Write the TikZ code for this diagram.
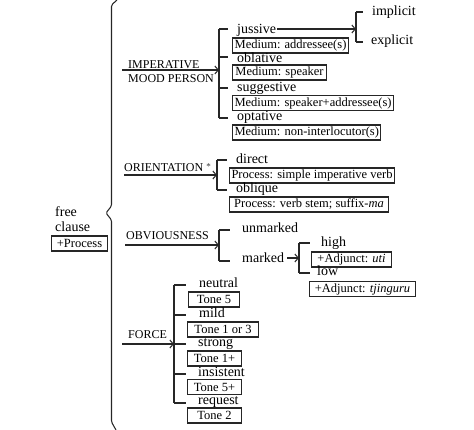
\documentclass[tikz,border=0pt]{standalone}
\usepackage{fontspec}
\setmainfont{Liberation Serif}
\usetikzlibrary{arrows.meta}
\begin{document}
\begin{tikzpicture}[x=1pt,y=-1pt,
  ln/.style={draw=black!85,line width=1.05pt},
  arr/.style={ln,-{Straight Barb[length=3.5pt,width=8pt]}},
  lab/.style={inner sep=0pt,anchor=base west,font=\fontsize{14}{16}\selectfont,text=black},
  caplab/.style={inner sep=0pt,anchor=base west,font=\fontsize{12}{14}\selectfont,text=black},
  bx/.style={draw=black!85,line width=1.05pt,inner xsep=2pt,inner ysep=0pt,anchor=west,
    font=\fontsize{12.5}{14}\selectfont,text=black,minimum height=15pt},
]
\useasboundingbox (0,0) rectangle (474,430);
% big brace
\draw[ln,rounded corners=1.5pt] (117,0) -- (111.5,5) -- (111.5,206) -- (106,213) -- (111.5,220) -- (111.5,422) -- (116,430);
% free clause
\node[lab] (free) at (55,217) {free};
\node[lab] (clause) at (55,232) {clause};
\node[bx,minimum width=56pt] (proc) at (51,243.5) {+Process};

% IMPERATIVE MOOD PERSON
\node[caplab] (imp) at (128,68.5) {IMPERATIVE};
\node[caplab] (mood) at (128,83) {MOOD PERSON};
\coordinate (impL) at (122,70);
\coordinate (b1t) at (219,29);
\coordinate (b1b) at (219,118);
\draw[ln] (b1t) -- (b1b);
\draw[arr] (impL) -- (b1t |- impL);
\foreach \yy in {29,57,88,118} \draw[ln] (219,\yy) -- (228,\yy);
\node[lab] (jus) at (237,33.5) {jussive};
\node[bx,minimum width=116pt] (m1) at (232,45.5) {Medium: addressee(s)};
\node[lab] (obl) at (237,63) {oblative};
\node[bx,minimum width=94pt] (m2) at (232,72.5) {Medium: speaker};
\node[lab] (sug) at (237,92) {suggestive};
\node[bx,minimum width=161pt] (m3) at (232,103) {Medium: speaker+addressee(s)};
\node[lab] (opt) at (237,121) {optative};
\node[bx,minimum width=146pt] (m4) at (232,132.5) {Medium: non-interlocutor(s)};
% implicit / explicit
\coordinate (b2t) at (356,12);
\coordinate (b2b) at (356,42);
\draw[ln] (b2t) -- (b2b);
\draw[ln] (b2t) -- ++(7,0);
\draw[ln] (b2b) -- ++(7,0);
\coordinate (jusE) at (277,29);
\draw[arr] (jusE) -- (b2t |- jusE);
\node[lab] (impl) at (372,16) {implicit};
\node[lab] (expl) at (371,45) {explicit};

% ORIENTATION
\node[caplab] (ori) at (124,172) {ORIENTATION};
\node[inner sep=0pt,font=\fontsize{9}{9}\selectfont,text=black!80] (ast) at (208.5,167) {*};
\coordinate (oriL) at (124,175);
\coordinate (b3t) at (217,160);
\coordinate (b3b) at (217,190);
\draw[ln] (b3t) -- (b3b);
\draw[ln] (b3t) -- ++(10,0);
\draw[ln] (b3b) -- ++(10,0);
\draw[arr] (oriL) -- (b3t |- oriL);
\node[lab] (dir) at (236,164) {direct};
\node[bx,minimum width=161pt] (p1) at (229,175.5) {Process: simple imperative verb};
\node[lab] (obq) at (236,193) {oblique};
\node[bx,minimum width=159pt] (p2) at (229,204.5) {Process: verb stem; suffix-\textit{ma}};

% OBVIOUSNESS
\node[caplab] (obv) at (126,240) {OBVIOUSNESS};
\coordinate (obvL) at (125,245);
\coordinate (b4t) at (219,230);
\coordinate (b4b) at (219,261);
\draw[ln] (b4t) -- (b4b);
\draw[ln] (b4t) -- ++(11,0);
\draw[ln] (b4b) -- ++(11,0);
\draw[arr] (obvL) -- (b4t |- obvL);
\node[lab] (unm) at (242,233) {unmarked};
\node[lab] (mar) at (242,263) {marked};
\coordinate (marE) at (287,258);
\coordinate (b5t) at (299,243);
\coordinate (b5b) at (299,273);
\draw[ln] (b5t) -- (b5b);
\draw[ln] (b5t) -- ++(11,0);
\draw[ln] (b5b) -- ++(11,0);
\draw[arr] (marE) -- (b5t |- marE);
\node[lab] (high) at (321,247) {high};
\node[bx,minimum width=80pt] (a1) at (311,259.5) {+Adjunct: \textit{uti}};
\node[lab] (low) at (317,276) {low};
\node[bx,minimum width=106pt] (a2) at (309,289) {+Adjunct: \textit{tjinguru}};

% FORCE
\node[caplab] (force) at (128,339) {FORCE};
\coordinate (forL) at (122,344);
\coordinate (b6t) at (174,285);
\coordinate (b6b) at (174,403);
\draw[ln] (b6t) -- (b6b);
\foreach \yy in {285,315,344,374,403} \draw[ln] (174,\yy) -- (186,\yy);
\draw[arr] (forL) -- (b6t |- forL);
\node[lab] (neu) at (199,288) {neutral};
\node[bx,minimum width=51pt] (t1) at (188,299.5) {Tone 5};
\node[lab] (mild) at (199,318) {mild};
\node[bx,minimum width=71pt] (t2) at (187,329.5) {Tone 1 or 3};
\node[lab] (str) at (198,346) {strong};
\node[bx,minimum width=54pt] (t3) at (187,358.5) {Tone 1+};
\node[lab] (ins) at (198,376) {insistent};
\node[bx,minimum width=54pt] (t4) at (187,387) {Tone 5+};
\node[lab] (req) at (198,404) {request};
\node[bx,minimum width=54pt] (t5) at (187,415.5) {Tone 2};
\end{tikzpicture}
\end{document}
